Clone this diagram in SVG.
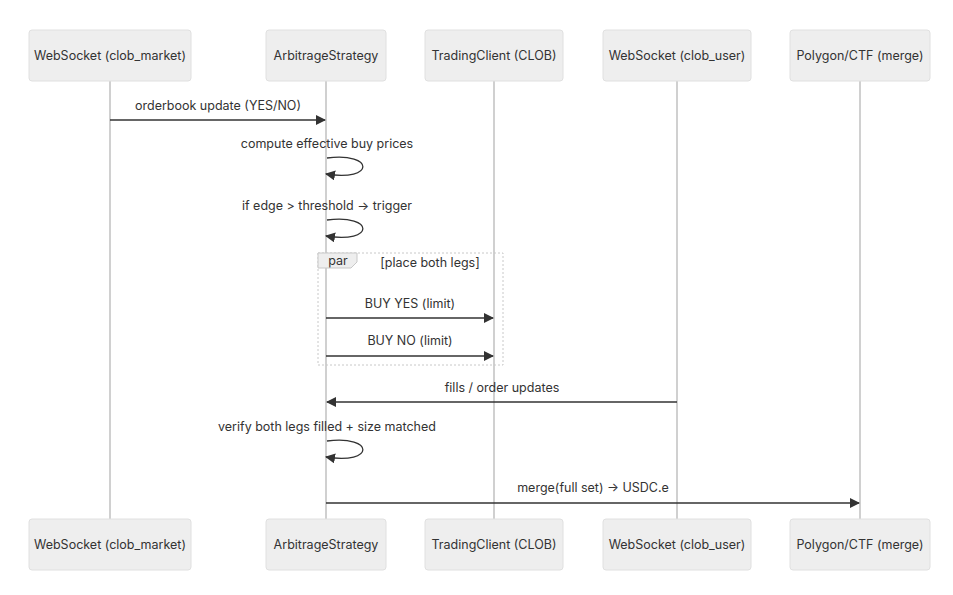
<svg xmlns="http://www.w3.org/2000/svg" width="953" height="595" viewBox="0 0 953 595">
<style>
.box{fill:#eeeeee;stroke:#e0e0e0;stroke-width:1}
.t{font-family:Inter,"Liberation Sans",sans-serif;font-size:12.5px;fill:#333;text-anchor:middle}
.life{stroke:#d0d0d0;stroke-width:2}
.msg{stroke:#333;stroke-width:1.3;fill:none}
</style>
<defs><marker id="a" viewBox="0 0 10 10" refX="9" refY="5" markerWidth="10" markerHeight="10" markerUnits="userSpaceOnUse" orient="auto"><path d="M0,0L10,5L0,10z" fill="#333"/></marker></defs>
<rect width="953" height="595" fill="#fff"/>
<g id="lifelines">
<line class="life" x1="110" y1="81" x2="110" y2="519"/>
<line class="life" x1="326" y1="81" x2="326" y2="519"/>
<line class="life" x1="494" y1="81" x2="494" y2="519"/>
<line class="life" x1="677" y1="81" x2="677" y2="519"/>
<line class="life" x1="860" y1="81" x2="860" y2="519"/>
</g>
<g id="n1"><rect class="box" x="29" y="30" width="162" height="51" rx="3"/><text class="t" x="110" y="60">WebSocket (clob_market)</text>
<rect class="box" x="29" y="519" width="162" height="51" rx="3"/><text class="t" x="110" y="549">WebSocket (clob_market)</text></g>
<g id="n2"><rect class="box" x="266" y="30" width="120" height="51" rx="3"/><text class="t" x="326" y="60">ArbitrageStrategy</text>
<rect class="box" x="266" y="519" width="120" height="51" rx="3"/><text class="t" x="326" y="549">ArbitrageStrategy</text></g>
<g id="n3"><rect class="box" x="425" y="30" width="138" height="51" rx="3"/><text class="t" x="494" y="60">TradingClient (CLOB)</text>
<rect class="box" x="425" y="519" width="138" height="51" rx="3"/><text class="t" x="494" y="549">TradingClient (CLOB)</text></g>
<g id="n4"><rect class="box" x="603" y="30" width="148" height="51" rx="3"/><text class="t" x="677" y="60">WebSocket (clob_user)</text>
<rect class="box" x="603" y="519" width="148" height="51" rx="3"/><text class="t" x="677" y="549">WebSocket (clob_user)</text></g>
<g id="n5"><rect class="box" x="790" y="30" width="140" height="51" rx="3"/><text class="t" x="860" y="60">Polygon/CTF (merge)</text>
<rect class="box" x="790" y="519" width="140" height="51" rx="3"/><text class="t" x="860" y="549">Polygon/CTF (merge)</text></g>
<g id="par">
<rect x="318" y="253" width="185" height="112" fill="none" stroke="#c8c8c8" stroke-dasharray="2,2"/>
<path d="M318,253H357V262L351,268H318z" fill="#eeeeee" stroke="#c8c8c8"/>
<text class="t" x="338" y="265">par</text>
<text class="t" x="430" y="267">[place both legs]</text>
</g>
<g id="connectors">
<line class="msg" x1="110" y1="120" x2="325" y2="120" marker-end="url(#a)"/>
<text class="t" x="218" y="110">orderbook update (YES/NO)</text>
<text class="t" x="327" y="148">compute effective buy prices</text>
<path class="msg" d="M327,158C375,152 375,182 326,174" marker-end="url(#a)"/>
<text class="t" x="327" y="210">if edge &gt; threshold → trigger</text>
<path class="msg" d="M327,220C375,214 375,244 326,236" marker-end="url(#a)"/>
<line class="msg" x1="326" y1="318" x2="493" y2="318" marker-end="url(#a)"/>
<text class="t" x="410" y="308">BUY YES (limit)</text>
<line class="msg" x1="326" y1="356" x2="493" y2="356" marker-end="url(#a)"/>
<text class="t" x="410" y="345">BUY NO (limit)</text>
<line class="msg" x1="677" y1="402" x2="327" y2="402" marker-end="url(#a)"/>
<text class="t" x="502" y="392">fills / order updates</text>
<text class="t" x="327" y="431">verify both legs filled + size matched</text>
<path class="msg" d="M327,441C375,435 375,465 326,457" marker-end="url(#a)"/>
<line class="msg" x1="326" y1="503" x2="859" y2="503" marker-end="url(#a)"/>
<text class="t" x="593" y="492">merge(full set) → USDC.e</text>
</g>
</svg>
